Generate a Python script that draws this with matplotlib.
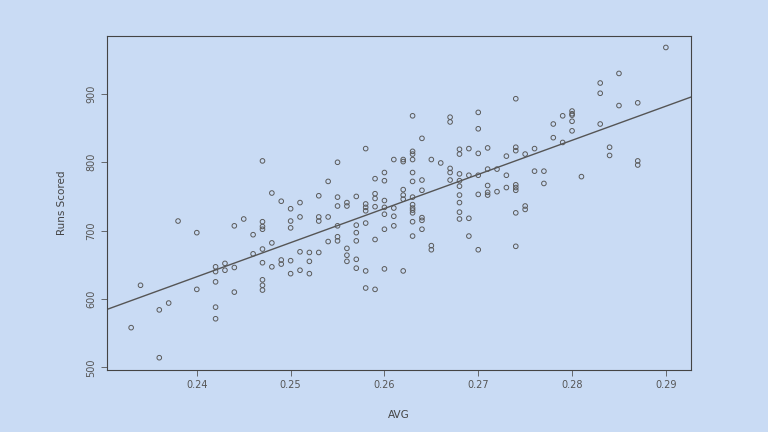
import numpy as np
import matplotlib.pyplot as plt

# (AVG, runs), grouped by AVG column
cols = {
    0.233: [558], 0.234: [620], 0.236: [584, 514], 0.237: [594], 0.238: [714],
    0.240: [697, 614], 0.242: [647, 640, 625, 588, 571], 0.243: [652, 642],
    0.244: [707, 646, 610], 0.245: [717], 0.246: [694, 666],
    0.247: [802, 713, 706, 702, 673, 653, 628, 620, 613], 0.248: [755, 682, 647],
    0.249: [743, 657, 651], 0.250: [732, 714, 704, 656, 637],
    0.251: [741, 720, 669, 642], 0.252: [668, 655, 637],
    0.253: [751, 720, 714, 668], 0.254: [772, 720, 684],
    0.255: [800, 749, 736, 707, 691, 685], 0.256: [741, 736, 674, 664, 655],
    0.257: [750, 708, 697, 685, 658, 645],
    0.258: [820, 739, 734, 729, 711, 641, 616],
    0.259: [776, 754, 747, 735, 687, 614],
    0.260: [785, 773, 744, 734, 724, 702, 644], 0.261: [804, 733, 721, 707],
    0.262: [804, 801, 760, 752, 746, 641],
    0.263: [868, 816, 812, 804, 785, 772, 749, 738, 733, 730, 726, 713, 692],
    0.264: [835, 774, 759, 719, 715, 702], 0.265: [804, 678, 672], 0.266: [799],
    0.267: [866, 859, 791, 785, 774],
    0.268: [819, 812, 783, 773, 765, 752, 741, 727, 717],
    0.269: [820, 781, 718, 692], 0.270: [873, 849, 813, 781, 753, 672],
    0.271: [821, 790, 766, 756, 752], 0.272: [790, 757], 0.273: [809, 781, 763],
    0.274: [893, 822, 817, 767, 763, 759, 726, 677], 0.275: [812, 736, 731],
    0.276: [820, 787], 0.277: [787, 769], 0.278: [856, 836], 0.279: [868, 829],
    0.280: [875, 871, 869, 860, 846], 0.281: [779], 0.283: [916, 901, 856],
    0.284: [822, 810], 0.285: [930, 883], 0.287: [887, 802, 796], 0.290: [968],
}
avg = np.array([a for a, rs in cols.items() for _ in rs])
runs = np.array([r for rs in cols.values() for r in rs])

bg = "#c9dbf4"
fig = plt.figure(figsize=(7.68, 4.32), dpi=100, facecolor=bg)
ax = fig.add_axes([0.139, 0.1435, 0.761, 0.7735], facecolor=bg)

ax.scatter(avg, runs, s=11, facecolors="none", edgecolors="#5a5a5a", linewidths=0.7)

xlim = (0.2304, 0.2927)
slope, icpt = np.polyfit(avg, runs, 1)
xs = np.array(xlim)
ax.plot(xs, icpt + slope * xs, color="#555555", linewidth=1)

ax.set_xlim(*xlim)
ax.set_ylim(496, 985)
ax.set_xticks([0.24, 0.25, 0.26, 0.27, 0.28, 0.29])
ax.set_xticklabels(["0.24", "0.25", "0.26", "0.27", "0.28", "0.29"])
ax.set_yticks([500, 600, 700, 800, 900])
for lab in ax.get_yticklabels():
    lab.set_rotation(90)
    lab.set_va("center")
ax.tick_params(colors="#555555", labelsize=7, length=4, width=0.6)
for s in ax.spines.values():
    s.set_color("#444444")
    s.set_linewidth(0.8)
ax.set_xlabel("AVG", fontsize=7.5, color="#444444", labelpad=14)
ax.set_ylabel("Runs Scored", fontsize=7.5, color="#444444", labelpad=14)

fig.savefig("out.png", dpi=100, facecolor=bg)
